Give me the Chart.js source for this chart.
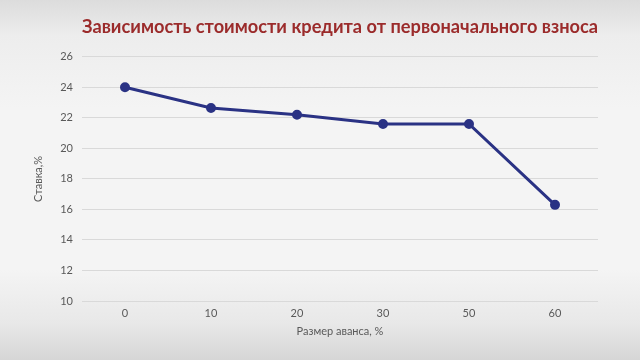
<!DOCTYPE html>
<html>
<head>
<meta charset="utf-8">
<script src="https://cdn.jsdelivr.net/npm/chart.js@4/dist/chart.umd.min.js"></script>
<style>
html,body{margin:0;padding:0;}
body{width:640px;height:360px;overflow:hidden;
background:linear-gradient(to bottom,#dcdcdc 0%,#ededed 10%,#f4f4f4 30%,#f4f4f4 75%,#e8e8e8 90%,#d6d6d6 100%);}
#wrap{width:640px;height:360px;position:relative;}
</style>
</head>
<body>
<div id="wrap"><canvas id="c" width="640" height="360"></canvas></div>
<script>
const categories = ['0', '10', '20', '30', '50', '60'];
const rateValues = [24.0, 22.65, 22.2, 21.6, 21.6, 16.3];
const yTicks = [10, 12, 14, 16, 18, 20, 22, 24, 26];
const chartTitle = 'Зависимость стоимости кредита от первоначального взноса';
const xTitle = 'Размер аванса, %';
const yTitle = 'Ставка,%';

new Chart(document.getElementById('c'), {
  type: 'line',
  data: {
    labels: categories,
    datasets: [{
      data: rateValues,
      borderColor: '#2a3284',
      backgroundColor: '#2a3284',
      borderWidth: 3,
      pointRadius: 3.5,
      pointHoverRadius: 3.5,
      tension: 0
    }]
  },
  options: {
    responsive: false,
    animation: false,
    layout: {padding: {top: 15, right: 42, bottom: 0, left: 0}},
    plugins: {
      legend: {display: false},
      tooltip: {enabled: false},
      title: {
        display: true,
        fullSize: false,
        text: chartTitle,
        color: '#9b2b2b',
        font: {family: 'Lato', size: 19, weight: 'bold'},
        padding: {top: 0, bottom: 19}
      }
    },
    scales: {
      x: {
        offset: true,
        grid: {display: false, drawTicks: false},
        border: {display: false},
        ticks: {color: '#595959', font: {family: 'Lato', size: 11}, padding: 6},
        title: {display: true, text: xTitle, color: '#595959', font: {family: 'Lato', size: 11}, padding: {top: 4, bottom: 22}},
        afterFit: s => { s.height = 59; }
      },
      y: {
        min: 10, max: 26,
        afterBuildTicks: s => { s.ticks = yTicks.map(v => ({value: v})); },
        grid: {color: '#d9d9d9', drawTicks: false},
        border: {display: false},
        ticks: {color: '#595959', font: {family: 'Lato', size: 11}, padding: 9},
        title: {display: true, text: yTitle, color: '#595959', font: {family: 'Lato', size: 11}, padding: {top: 32, bottom: 0}},
        afterFit: s => { s.width = 82; }
      }
    }
  }
});
</script>
</body>
</html>
